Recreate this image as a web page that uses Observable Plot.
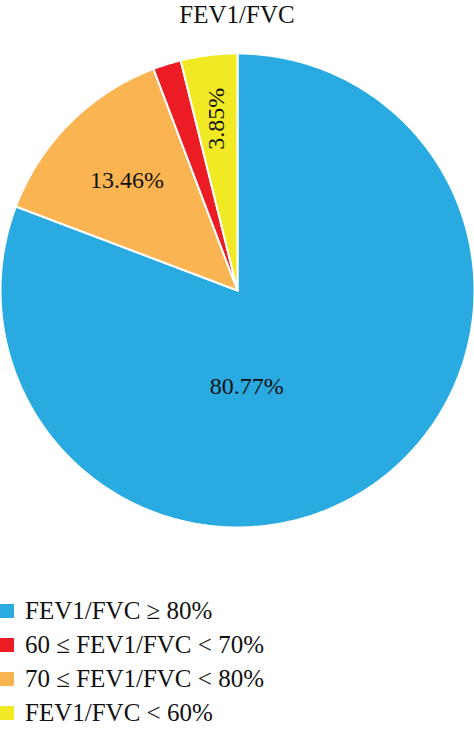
<!DOCTYPE html>
<html>
<head>
<meta charset="utf-8">
<script src="https://cdn.jsdelivr.net/npm/d3@7"></script>
<script src="https://cdn.jsdelivr.net/npm/@observablehq/plot@0.6"></script>
<style>
  body { margin: 0; background: #fff; width: 474px; font-family: "Liberation Serif", "Times New Roman", serif; color: #111; }
  #title { font-size: 25px; line-height: 30px; text-align: center; margin-bottom: 22px; }
  #chart svg { display: block; }
  #legend { margin-top: 66px; }
  .item { display: flex; align-items: center; height: 34px; line-height: 34px; font-size: 25px; }
  .sw { width: 14px; height: 14px; margin-right: 11px; flex: none; }
</style>
</head>
<body>
<div id="title">FEV1/FVC</div>
<div id="chart"></div>
<div id="legend"></div>
<script>
// Slice order, clockwise from 12 o'clock
const categories = ["FEV1/FVC ≥ 80%", "70 ≤ FEV1/FVC < 80%", "60 ≤ FEV1/FVC < 70%", "FEV1/FVC < 60%"];
const values = [80.77, 13.46, 1.92, 3.85];
const labels = ["80.77%", "13.46%", "", "3.85%"];
const colors = ["#29aae1", "#fbb452", "#ec1c24", "#f1e923"];
// Legend order as in the reference
const legendOrder = ["FEV1/FVC ≥ 80%", "60 ≤ FEV1/FVC < 70%", "70 ≤ FEV1/FVC < 80%", "FEV1/FVC < 60%"];
// label placement: angle (fraction of slice, 0.5 = middle) and radius fraction
const labelAngleFrac = [0.6, 0.5, 0.5, 0.5];
const labelRadius = [0.405, 0.66, 0.73, 0.73];
const labelRotate = [0, 0, 0, -90];

const pie = d3.pie().sort(null).value(d => d)(values);
const slicePts = [];
pie.forEach((p, i) => {
  slicePts.push({x: 0, y: 0, k: categories[i]});
  const n = Math.max(4, Math.ceil((p.endAngle - p.startAngle) / 0.01));
  for (let j = 0; j <= n; j++) {
    const a = p.startAngle + (p.endAngle - p.startAngle) * j / n;
    slicePts.push({x: Math.sin(a), y: Math.cos(a), k: categories[i]});
  }
  slicePts.push({x: 0, y: 0, k: categories[i]});
});
const labelData = pie.map((p, i) => {
  const a = p.startAngle + (p.endAngle - p.startAngle) * labelAngleFrac[i];
  return {x: Math.sin(a) * labelRadius[i], y: Math.cos(a) * labelRadius[i], text: labels[i], rotate: labelRotate[i]};
}).filter(d => d.text);

const plot = Plot.plot({
  width: 474,
  height: 476,
  marginLeft: 0, marginRight: 0, marginTop: 1, marginBottom: 1,
  style: {fontFamily: "'Liberation Serif', 'Times New Roman', serif", fontSize: "24px", background: "white"},
  x: {domain: [-1, 1], axis: null},
  y: {domain: [-1, 1], axis: null},
  color: {domain: categories, range: colors},
  marks: [
    Plot.line(slicePts, {x: "x", y: "y", z: "k", fill: "k", stroke: "white", strokeWidth: 2, strokeLinejoin: "round"}),
    Plot.text(labelData.filter(d => d.rotate === 0), {x: "x", y: "y", text: "text", fontSize: 24, fill: "#111"}),
    Plot.text(labelData.filter(d => d.rotate !== 0), {x: "x", y: "y", text: "text", rotate: -90, fontSize: 24, fill: "#111"})
  ]
});
document.getElementById("chart").appendChild(plot);

const leg = document.getElementById("legend");
legendOrder.forEach(name => {
  const i = categories.indexOf(name);
  const row = document.createElement("div");
  row.className = "item";
  const sw = document.createElement("span");
  sw.className = "sw";
  sw.style.background = colors[i];
  const t = document.createElement("span");
  t.textContent = name;
  row.appendChild(sw); row.appendChild(t);
  leg.appendChild(row);
});
</script>
</body>
</html>
